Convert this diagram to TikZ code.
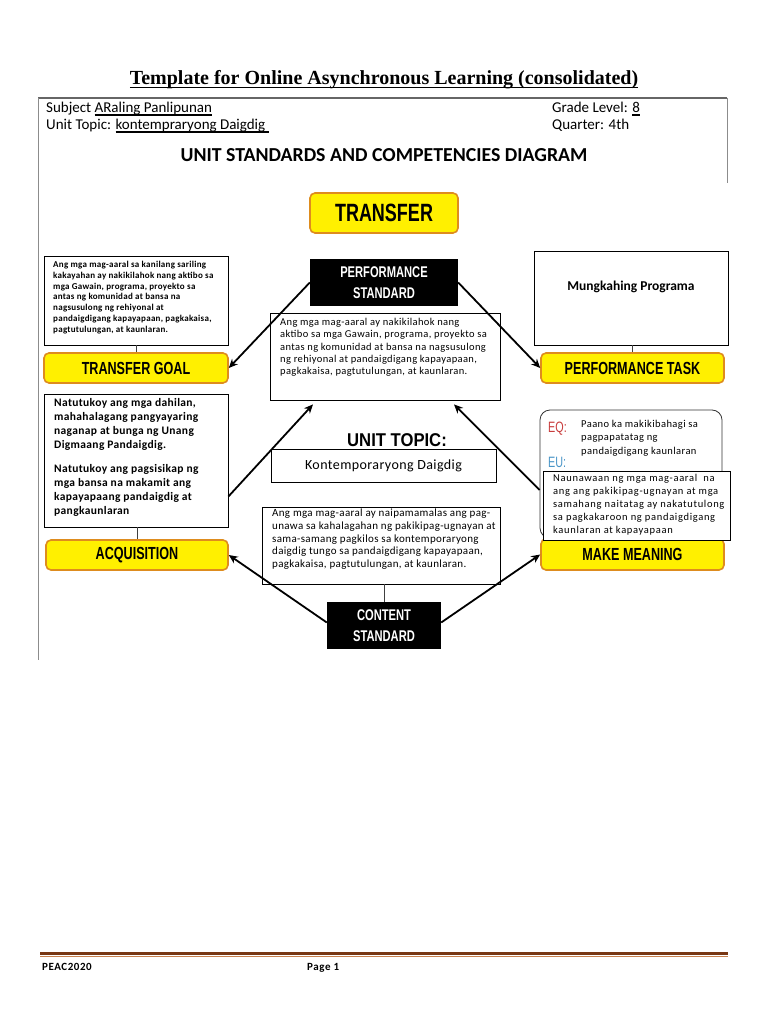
\documentclass[tikz,border=0pt]{standalone}
\usepackage{fontspec}
\setmainfont{Carlito}
\newfontfamily\nb[FakeStretch=0.72]{Liberation Sans}
\newfontfamily\nbb[FakeStretch=0.9]{Liberation Sans}
\newfontfamily\tf{Liberation Serif}
\usetikzlibrary{arrows.meta}
\newcommand\myfs[2]{\fontsize{#1}{#2}\selectfont}
\newcommand\lsp[1]{\addfontfeature{LetterSpace=#1}}
\newsavebox\myulbox
\newcommand\myul[2][2.6pt]{\sbox\myulbox{#2}\rlap{\rule[-#1]{\wd\myulbox}{1.1pt}}\usebox\myulbox}
\definecolor{ybox}{RGB}{255,240,0}
\definecolor{ybord}{RGB}{222,140,30}
\definecolor{eqred}{RGB}{200,60,60}
\definecolor{eublue}{RGB}{75,150,200}
\definecolor{brownA}{RGB}{120,55,20}
\definecolor{brownB}{RGB}{200,130,80}
\begin{document}
\begin{tikzpicture}[x=1pt,y=-1pt,
  rect/.style={draw=black, line width=0.8pt, fill=white, inner sep=0pt, anchor=center},
  ybx/.style={draw=ybord, fill=ybox, line width=1.6pt, rounded corners=5pt, inner sep=0pt, anchor=center, font=\nb\bfseries\myfs{17.5}{17.5}},
  blk/.style={fill=black, text=white, inner sep=0pt, anchor=center, align=center, font=\nb\bfseries\myfs{15.5}{21.5}},
  txt/.style={inner sep=0pt, anchor=north west, align=left},
  arr/.style={line width=1.8pt, -{Stealth[length=9pt,width=8pt]}},
  conn/.style={line width=0.9pt, draw=black!75}
]
\useasboundingbox[fill=white] (0,0) rectangle (768,1024);

% title
\node[inner sep=0pt, font=\tf\bfseries\myfs{20}{22}] (title) at (384,80) {\myul[3pt]{Template for Online Asynchronous Learning (consolidated)}};

% header frame
\draw[line width=1.4pt, draw=black!60] (38,98) -- (727,98);
\draw[line width=1pt, draw=black!45] (38,98) -- (38,660);
\draw[line width=1pt, draw=black!45] (727,98) -- (727,183);

\node[inner sep=0pt, anchor=base west, font=\myfs{15}{17}] (subj) at (46,113) {Subject \myul{ARaling Panlipunan}};
\node[inner sep=0pt, anchor=base west, font=\myfs{15}{17}] (utop) at (46,130) {Unit Topic: \myul{kontempraryong Daigdig\ }};
\node[inner sep=0pt, anchor=base west, font=\myfs{15}{17}] (grade) at (552,113) {Grade Level: \myul{8}};
\node[inner sep=0pt, anchor=base west, font=\myfs{15}{17}] (quarter) at (552,130) {Quarter: 4th};
\node[inner sep=0pt, font=\bfseries\myfs{19.8}{22}] (diag) at (384,155) {UNIT STANDARDS AND COMPETENCIES DIAGRAM};

% TRANSFER
\node[ybx, minimum width=148pt, minimum height=40pt, font=\nb\bfseries\myfs{25}{25}] (tr) at (384,213) {TRANSFER};

% Performance standard
\node[blk, minimum width=148pt, minimum height=47pt] (ps) at (384,282.5) {PERFORMANCE\\STANDARD};
\node[rect, minimum width=230pt, minimum height=87pt] (psd) at (385,356.5) {};
\node[txt, font=\myfs{10.5}{12.3}\lsp{3.5}] (psdt) at (280,318) {Ang mga mag-aaral ay nakikilahok nang\\aktibo sa mga Gawain, programa, proyekto sa\\antas ng komunidad at bansa na nagsusulong\\ng rehiyonal at pandaigdigang kapayapaan,\\pagkakaisa, pagtutulungan, at kaunlaran.};

% Transfer goal
\node[rect, minimum width=184pt, minimum height=89pt] (tgd) at (136,300.5) {};
\node[txt, font=\bfseries\myfs{9}{10.8}\lsp{3}] (tgdt) at (53,261) {Ang mga mag-aaral sa kanilang sariling\\kakayahan ay nakikilahok nang aktibo sa\\mga Gawain, programa, proyekto sa\\antas ng komunidad at bansa na\\nagsusulong ng rehiyonal at\\pandaigdigang kapayapaan, pagkakaisa,\\pagtutulungan, at kaunlaran.};
\node[ybx, minimum width=184pt, minimum height=30pt] (tg) at (136,368) {TRANSFER GOAL};
\draw[conn] (tgd.south) -- (tg.north);

% Performance task
\node[rect, minimum width=194pt, minimum height=94pt] (mp) at (631,298) {};
\node[inner sep=0pt, font=\bfseries\myfs{13.5}{15}] (mpt) at (631,287) {Mungkahing Programa};
\node[ybx, minimum width=183pt, minimum height=30pt] (pt) at (632.5,368) {PERFORMANCE TASK};
\draw[conn] (mp.south -| pt.north) -- (pt.north);

% Acquisition
\node[rect, minimum width=184pt, minimum height=133pt] (acd) at (136,460.5) {};
\node[txt, font=\bfseries\myfs{11.5}{14}\lsp{3}] (acdt1) at (54,398) {Natutukoy ang mga dahilan,\\mahahalagang pangyayaring\\naganap at bunga ng Unang\\Digmaang Pandaigdig.};
\node[txt, font=\bfseries\myfs{11.5}{14}\lsp{3}] (acdt2) at (54,464) {Natutukoy ang pagsisikap ng\\mga bansa na makamit ang\\kapayapaang pandaigdig at\\pangkaunlaran};
\node[ybx, minimum width=182pt, minimum height=30pt] (acq) at (137,555) {ACQUISITION};
\draw[conn] (acd.south -| acq.north) -- (acq.north);

% Unit topic
\node[inner sep=0pt, font=\nbb\bfseries\myfs{18.5}{18.5}] (utl) at (397,440) {UNIT TOPIC:};
\node[rect, minimum width=225pt, minimum height=33pt, font=\myfs{14}{16}\lsp{3}] (utb) at (383.5,465.5) {Kontemporaryong Daigdig};

% Content standard
\node[rect, minimum width=238pt, minimum height=77pt] (csd) at (381,545.5) {};
\node[txt, font=\myfs{11}{12.6}\lsp{3}] (csdt) at (272,509) {Ang mga mag-aaral ay naipamamalas ang pag-\\unawa sa kahalagahan ng pakikipag-ugnayan at\\sama-samang pagkilos sa kontemporaryong\\daigdig tungo sa pandaigdigang kapayapaan,\\pagkakaisa, pagtutulungan, at kaunlaran.};
\node[blk, minimum width=114pt, minimum height=47pt] (cs) at (384,625.5) {CONTENT\\STANDARD};
\draw[conn] (cs.north |- csd.south) -- (cs.north);

% Make meaning
\node[draw=black!80, line width=0.8pt, fill=white, rounded corners=10pt, inner sep=0pt, minimum width=182pt, minimum height=128pt] (eq) at (631,474) {};
\node[inner sep=0pt, anchor=west, text=eqred, font=\nb\myfs{15}{15}] (eql) at (548,429) {EQ:};
\node[inner sep=0pt, anchor=west, text=eublue, font=\nb\myfs{15}{15}] (eul) at (548,462) {EU:};
\node[txt, font=\myfs{10.5}{13.3}\lsp{4}] (eqt) at (581,420) {Paano ka makikibahagi sa\\pagpapatatag ng\\pandaigdigang kaunlaran};
\node[ybx, minimum width=183pt, minimum height=31pt] (mm) at (632.5,554.5) {MAKE MEANING};
\node[rect, minimum width=187pt, minimum height=69pt] (eud) at (636.5,505.5) {};
\node[txt, font=\myfs{10.5}{13}\lsp{6.5}] (eudt) at (553,474) {Naunawaan ng mga mag-aaral\ \ na\\ang ang pakikipag-ugnayan at mga\\samahang naitatag ay nakatutulong\\sa pagkakaroon ng pandaigdigang\\kaunlaran at kapayapaan};

% arrows
\draw[arr] (ps.west) -- (tg.east);
\draw[arr] (ps.east) -- (pt.west);
\draw[arr] ([yshift=-36pt]acd.east) -- ([xshift=-72pt,yshift=-4pt]psd.south);
\draw[arr] ([yshift=-16pt]eq.west) -- ([xshift=69pt,yshift=-4pt]psd.south);
\draw[arr] ([yshift=3pt]cs.west) -- (acq.east);
\draw[arr] ([yshift=3pt]cs.east) -- (mm.west);

% footer
\draw[line width=3pt, draw=brownA] (40,953.5) -- (728,953.5);
\draw[line width=1pt, draw=brownB] (40,956.8) -- (728,956.8);
\node[inner sep=0pt, anchor=base west, font=\bfseries\myfs{11}{12}\lsp{5}] (peac) at (42,970) {PEAC2020};
\node[inner sep=0pt, anchor=base west, font=\bfseries\myfs{11}{12}\lsp{5}] (page) at (307,970) {Page 1};
\end{tikzpicture}
\end{document}
